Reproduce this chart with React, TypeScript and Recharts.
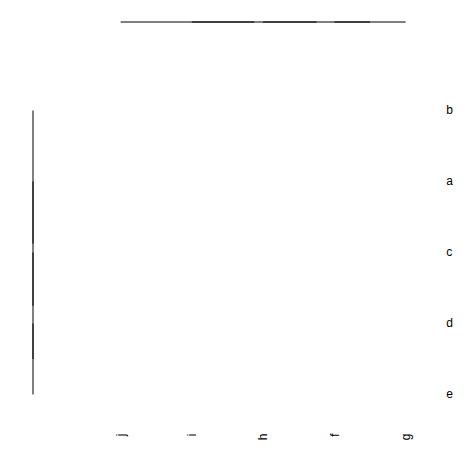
import React from 'react';
import { LineChart, Line, XAxis, YAxis, ScatterChart, Scatter } from 'recharts';

// Column (bottom) and row (right) labels in display order
const colLabels = ['j', 'i', 'h', 'f', 'g'];
const rowLabels = ['b', 'a', 'c', 'd', 'e'];

// hclust-style merge tables (negative = leaf number in display order, positive = earlier merge step)
const colMerge: number[][] = [[-4, -5], [-3, 1], [-2, 2], [-1, 3]];
const colHeights = [0, 0, 0, 0];
const rowMerge: number[][] = [[-1, -2], [1, -3], [2, -4], [3, -5]];
const rowHeights = [0, 0, 0, 0];

type Pt = { p: number; h: number };

function dendroSegments(merge: number[][], heights: number[]): Pt[][] {
  const pos: number[] = [];
  const hgt: number[] = [];
  const segs: Pt[][] = [];
  const get = (k: number) => (k < 0 ? { p: -k - 1, h: 0 } : { p: pos[k - 1], h: hgt[k - 1] });
  merge.forEach((m, i) => {
    const a = get(m[0]);
    const b = get(m[1]);
    const h = heights[i];
    segs.push([
      { p: a.p, h: a.h },
      { p: a.p, h },
      { p: b.p, h },
      { p: b.p, h: b.h },
    ]);
    pos.push((a.p + b.p) / 2);
    hgt.push(h);
  });
  return segs;
}

const colSegs = dendroSegments(colMerge, colHeights);
const rowSegs = dendroSegments(rowMerge, rowHeights);

const cells = rowLabels.flatMap((_, r) => colLabels.map((__, c) => ({ c, r })));

const FONT = 'Liberation Sans, Arial, Helvetica, sans-serif';
const idx = [0, 1, 2, 3, 4];

const PLOT_LEFT = 85.075;
const PLOT_W = 356.25;
const PLOT_TOP = 74.5;
const PLOT_H = 355;

const BottomTick = (props: any) => {
  const { x, y, payload } = props;
  return (
    <g transform={`translate(${x},${y})`}>
      <text
        transform="rotate(-90)"
        x={-4}
        y={0}
        dy="0.35em"
        textAnchor="end"
        fontSize={12}
        fontFamily={FONT}
        fill="#000"
      >
        {colLabels[payload.value]}
      </text>
    </g>
  );
};

const RightTick = (props: any) => {
  const { x, y, payload } = props;
  return (
    <text x={x + 5} y={y} dy="0.35em" textAnchor="start" fontSize={12} fontFamily={FONT} fill="#000">
      {rowLabels[payload.value]}
    </text>
  );
};

const CellShape = (props: any) => {
  const { cx, cy } = props;
  const w = PLOT_W / 5;
  const h = PLOT_H / 5;
  return <rect x={cx - w / 2} y={cy - h / 2} width={w} height={h} fill="#ffffff" />;
};

export default function App() {
  return (
    <div style={{ position: 'absolute', left: 0, top: 0, width: 474, height: 474, background: '#fff' }}>
      <div style={{ position: 'absolute', left: 0, top: 0 }}>
        <ScatterChart
          width={474}
          height={474}
          margin={{ top: PLOT_TOP, left: PLOT_LEFT, right: 0, bottom: 0 }}
        >
          <XAxis
            type="number"
            dataKey="c"
            domain={[-0.5, 4.5]}
            ticks={idx}
            interval={0}
            height={474 - PLOT_TOP - PLOT_H}
            axisLine={false}
            tickLine={false}
            tickSize={0}
            tickMargin={0}
            tick={<BottomTick />}
          />
          <YAxis
            type="number"
            dataKey="r"
            orientation="right"
            reversed
            domain={[-0.5, 4.5]}
            ticks={idx}
            interval={0}
            width={474 - PLOT_LEFT - PLOT_W}
            axisLine={false}
            tickLine={false}
            tickSize={0}
            tickMargin={0}
            tick={<RightTick />}
          />
          <Scatter data={cells} shape={<CellShape />} isAnimationActive={false} />
        </ScatterChart>
      </div>

      {/* column dendrogram */}
      <div style={{ position: 'absolute', left: PLOT_LEFT, top: 2 }}>
        <LineChart width={PLOT_W} height={40} margin={{ top: 0, right: 0, bottom: 0, left: 0 }}>
          <XAxis type="number" dataKey="p" domain={[-0.5, 4.5]} hide />
          <YAxis type="number" domain={[-1, 1]} hide />
          {colSegs.map((seg, i) => (
            <Line
              key={i}
              data={seg}
              dataKey="h"
              stroke="#000"
              strokeWidth={1}
              dot={false}
              activeDot={false}
              isAnimationActive={false}
            />
          ))}
        </LineChart>
      </div>

      {/* row dendrogram */}
      <div style={{ position: 'absolute', left: 13, top: PLOT_TOP }}>
        <LineChart
          layout="vertical"
          width={40}
          height={PLOT_H}
          margin={{ top: 0, right: 0, bottom: 0, left: 0 }}
        >
          <XAxis type="number" domain={[-1, 1]} hide />
          <YAxis type="number" dataKey="p" domain={[-0.5, 4.5]} reversed hide />
          {rowSegs.map((seg, i) => (
            <Line
              key={i}
              data={seg}
              dataKey="h"
              stroke="#000"
              strokeWidth={1}
              dot={false}
              activeDot={false}
              isAnimationActive={false}
            />
          ))}
        </LineChart>
      </div>
    </div>
  );
}
